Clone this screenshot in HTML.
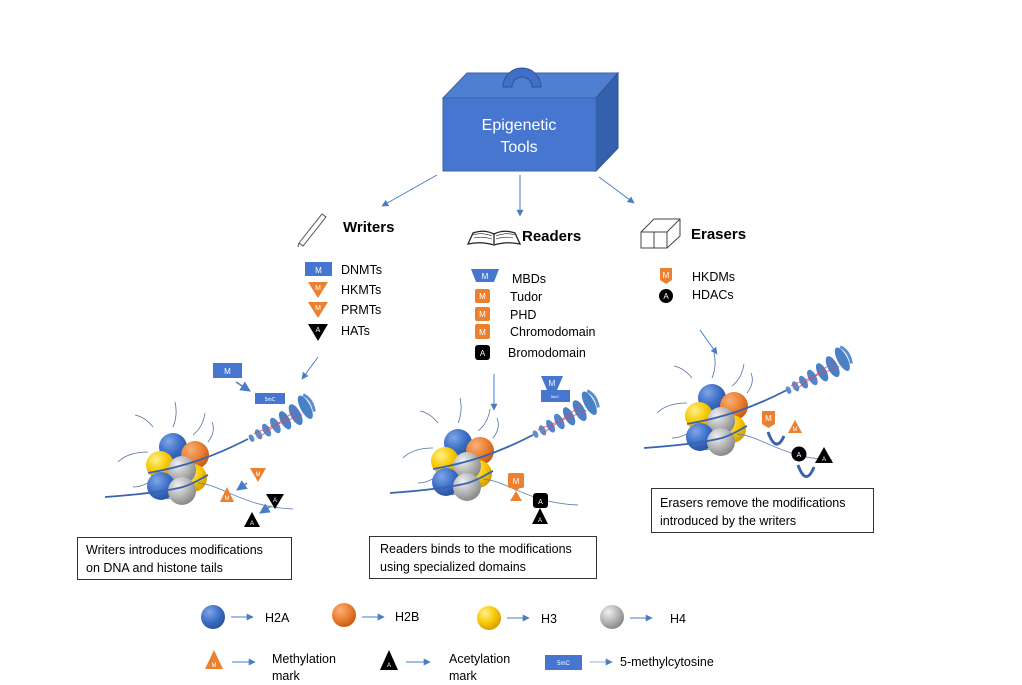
<!DOCTYPE html>
<html><head><meta charset="utf-8"><style>
html,body{margin:0;padding:0;background:#fff}
svg{display:block}
text{font-family:"Liberation Sans",sans-serif}
</style></head><body>
<svg width="1022" height="685" viewBox="0 0 1022 685" xmlns="http://www.w3.org/2000/svg">
<defs>
<marker id="ar" viewBox="0 0 10 10" refX="9" refY="5" markerWidth="7" markerHeight="7" orient="auto"><path d="M0,0 L10,5 L0,10 z" fill="#4a7ec4"/></marker>
<radialGradient id="gb" cx="35%" cy="30%" r="70%"><stop offset="0" stop-color="#7fa6e6"/><stop offset="0.6" stop-color="#3d6fc8"/><stop offset="1" stop-color="#2a55a0"/></radialGradient>
<radialGradient id="go" cx="35%" cy="30%" r="70%"><stop offset="0" stop-color="#f8b07a"/><stop offset="0.6" stop-color="#ea7f30"/><stop offset="1" stop-color="#c85f18"/></radialGradient>
<radialGradient id="gy" cx="35%" cy="30%" r="70%"><stop offset="0" stop-color="#fff08a"/><stop offset="0.6" stop-color="#f8c800"/><stop offset="1" stop-color="#d8a000"/></radialGradient>
<radialGradient id="gg" cx="35%" cy="30%" r="70%"><stop offset="0" stop-color="#f0f0f0"/><stop offset="0.6" stop-color="#b4b4b4"/><stop offset="1" stop-color="#8a8a8a"/></radialGradient>
<g id="nuc">
 <path d="M-20,-20 q-8,-10 -18,-12 M0,-20 q5,-12 2,-25 M20,-12 q10,-8 12,-22 M35,-5 q8,-10 4,-20 M-18,30 q-10,10 -22,10 M8,40 q-4,10 -14,12 M-25,5 q-20,0 -30,10" fill="none" stroke="#5070a0" stroke-width="0.8"/>
 <circle cx="0" cy="0" r="14" fill="url(#gb)"/>
 <circle cx="22" cy="8" r="14" fill="url(#go)"/>
 <circle cx="-13" cy="18" r="14" fill="url(#gy)"/>
 <circle cx="20" cy="31" r="14" fill="url(#gy)"/>
 <circle cx="9" cy="23" r="14" fill="url(#gg)"/>
 <circle cx="-12" cy="39" r="14" fill="url(#gb)"/>
 <circle cx="9" cy="44" r="14" fill="url(#gg)"/>
 <path d="M-68,50 C-40,48 -10,45 10,40 C25,35 30,30 35,28" fill="none" stroke="#3a64b0" stroke-width="1.8"/>
 <path d="M-25,26 C10,20 40,10 75,-8" fill="none" stroke="#3a64b0" stroke-width="1.8"/>
 <path d="M25,36 C50,38 70,60 120,62" fill="none" stroke="#6a88b8" stroke-width="0.9"/>
</g>
<g id="hel">
 <ellipse cx="4" cy="0" rx="2.5" ry="4" fill="#5c8fd0"/>
 <ellipse cx="12" cy="0" rx="3" ry="5.5" fill="#5c8fd0"/>
 <ellipse cx="21" cy="0" rx="3.5" ry="7" fill="#4f86cc"/>
 <ellipse cx="31" cy="0" rx="4" ry="8.5" fill="#4f86cc"/>
 <ellipse cx="42" cy="0" rx="4.5" ry="10" fill="#4a80c6"/>
 <ellipse cx="54" cy="0" rx="5" ry="11.5" fill="#4a80c6"/>
 <ellipse cx="66" cy="-2" rx="5" ry="13" fill="#4a80c6"/>
 <path d="M8,-3 L60,3 M10,3 L58,-4" stroke="#d44a6a" stroke-width="0.8"/>
 <path d="M70,-14 q6,8 2,20" fill="none" stroke="#5c8fd0" stroke-width="3"/>
</g>
</defs>

<!-- Toolbox -->
<polygon points="443,98 467,73 618,73 596,98" fill="#4f7fd0" stroke="#3b63a8"/>
<polygon points="596,98 618,73 618,148 596,171" fill="#3560ad" stroke="#2d5296"/>
<rect x="443" y="98" width="153" height="73" fill="#4676d0" stroke="#3b63a8"/>
<path d="M503,87 A19,19 0 0 1 541,87 L532,87 A10,10 0 0 0 512,87 Z" fill="#3f6fc8" stroke="#2d5296"/>
<text x="519" y="130" fill="#fff" font-size="16" text-anchor="middle">Epigenetic</text>
<text x="519" y="152" fill="#fff" font-size="16" text-anchor="middle">Tools</text>

<line x1="437" y1="175" x2="382" y2="206" stroke="#4a7ec4" marker-end="url(#ar)"/>
<line x1="520" y1="175" x2="520" y2="216" stroke="#4a7ec4" marker-end="url(#ar)"/>
<line x1="599" y1="177" x2="634" y2="203" stroke="#4a7ec4" marker-end="url(#ar)"/>

<!-- Headings -->
<g stroke="#555" fill="#fff" stroke-width="1">
 <polygon points="299,243 322,214 326,217 303,246"/>
 <line x1="299" y1="243" x2="298" y2="247"/>
</g>
<text x="343" y="232" font-size="15" font-weight="bold">Writers</text>
<g fill="#fff" stroke="#222" stroke-width="1.3">
<path d="M468,244 l5,-11 q11,-4 21,1 q10,-5 21,-1 l5,11 q-13,-3 -26,1 q-13,-4 -26,-1z"/>
<path d="M472,235 q10,-3 20,1 M496,236 q10,-4 19,-1 M474,238 q9,-2 18,1 M496,239 q9,-3 17,-1" fill="none" stroke-width="0.6"/>
<line x1="494" y1="234" x2="494" y2="244"/>
</g>
<text x="522" y="241" font-size="15" font-weight="bold">Readers</text>
<g fill="#fff" stroke="#444"><polygon points="641,232 654,219 680,219 680,236 667,248 641,248"/><line x1="641" y1="232" x2="667" y2="232"/><line x1="667" y1="232" x2="680" y2="219"/><line x1="667" y1="232" x2="667" y2="248"/><line x1="654" y1="232" x2="654" y2="248"/></g>
<text x="691" y="239" font-size="15" font-weight="bold">Erasers</text>

<!-- Writers list -->
<g font-size="12.5">
<rect x="305" y="262" width="27" height="14" fill="#4676d0"/><text x="318.5" y="273" font-size="8" fill="#fff" text-anchor="middle">M</text>
<text x="341" y="274">DNMTs</text>
<polygon points="308,282 328,282 318,298" fill="#ea8030"/><text x="318" y="290" font-size="7" fill="#fff" text-anchor="middle">M</text>
<text x="341" y="294">HKMTs</text>
<polygon points="308,302 328,302 318,318" fill="#ea8030"/><text x="318" y="310" font-size="7" fill="#fff" text-anchor="middle">M</text>
<text x="341" y="314">PRMTs</text>
<polygon points="308,324 328,324 318,341" fill="#000"/><text x="318" y="332" font-size="7" fill="#fff" text-anchor="middle">A</text>
<text x="341" y="335">HATs</text>

<!-- Readers list -->
<polygon points="471,269 499,269 494,282 476,282" fill="#4676d0"/><text x="485" y="279" font-size="8" fill="#fff" text-anchor="middle">M</text>
<text x="512" y="283">MBDs</text>
<rect x="475" y="289" width="15" height="14" rx="2" fill="#ea8030"/><text x="482.5" y="299" font-size="8" fill="#fff" text-anchor="middle">M</text>
<text x="510" y="301">Tudor</text>
<rect x="475" y="307" width="15" height="14" rx="2" fill="#ea8030"/><text x="482.5" y="317" font-size="8" fill="#fff" text-anchor="middle">M</text>
<text x="510" y="319">PHD</text>
<rect x="475" y="324" width="15" height="15" rx="2" fill="#ea8030"/><text x="482.5" y="335" font-size="8" fill="#fff" text-anchor="middle">M</text>
<text x="510" y="336">Chromodomain</text>
<rect x="475" y="345" width="15" height="15" rx="3" fill="#000"/><text x="482.5" y="356" font-size="8" fill="#fff" text-anchor="middle">A</text>
<text x="508" y="357">Bromodomain</text>

<!-- Erasers list -->
<path d="M660,268 h12 v12 l-6,4 l-6,-4z" fill="#ea8030"/><text x="666" y="278" font-size="8" fill="#fff" text-anchor="middle">M</text>
<text x="692" y="281">HKDMs</text>
<circle cx="666" cy="296" r="7" fill="#000"/><text x="666" y="299" font-size="8" fill="#fff" text-anchor="middle">A</text>
<text x="692" y="299">HDACs</text>
</g>

<!-- Writers scene -->
<line x1="318" y1="357" x2="302" y2="379" stroke="#4a7ec4" marker-end="url(#ar)"/>
<rect x="213" y="363" width="29" height="15" fill="#4676d0"/><text x="227.5" y="374" font-size="8" fill="#fff" text-anchor="middle">M</text>
<line x1="236" y1="382" x2="250" y2="391" stroke="#4a7ec4" stroke-width="1.5" marker-end="url(#ar)"/>
<use href="#nuc" x="173" y="447"/>
<use href="#hel" transform="translate(248,440) rotate(-28)"/>
<rect x="255" y="393" width="30" height="11" fill="#4676d0"/><text x="270" y="401" font-size="5" fill="#fff" text-anchor="middle">5mC</text>
<polygon points="250,468 266,468 258,482" fill="#ea8030"/><text x="258" y="476" font-size="6" fill="#fff" text-anchor="middle">M</text>
<line x1="247" y1="483" x2="237" y2="490" stroke="#4a7ec4" stroke-width="1.5" marker-end="url(#ar)"/>
<polygon points="227,487 220,502 234,502" fill="#ea8030"/><text x="227" y="500" font-size="6" fill="#fff" text-anchor="middle">M</text>
<polygon points="266,494 284,494 275,509" fill="#000"/><text x="275" y="502" font-size="6" fill="#fff" text-anchor="middle">A</text>
<line x1="271" y1="506" x2="260" y2="513" stroke="#4a7ec4" stroke-width="1.5" marker-end="url(#ar)"/>
<polygon points="252,512 244,527 260,527" fill="#000"/><text x="252" y="525" font-size="6" fill="#fff" text-anchor="middle">A</text>
<rect x="77.5" y="537.5" width="214" height="42" fill="#fff" stroke="#333"/>
<text x="86" y="554" font-size="12.5">Writers introduces modifications</text>
<text x="86" y="572" font-size="12.5">on DNA and histone tails</text>

<!-- Readers scene -->
<line x1="494" y1="374" x2="494" y2="410" stroke="#4a7ec4" marker-end="url(#ar)"/>
<use href="#nuc" x="458" y="443"/>
<use href="#hel" transform="translate(532,436) rotate(-28)"/>
<polygon points="541,376 563,376 557,390 547,390" fill="#4676d0"/><text x="552" y="386" font-size="8" fill="#fff" text-anchor="middle">M</text>
<rect x="541" y="390" width="29" height="12" fill="#4676d0"/><text x="555" y="398" font-size="4" fill="#fff" text-anchor="middle">5mC</text>
<rect x="508" y="473" width="16" height="15" rx="2" fill="#ea8030"/><text x="516" y="484" font-size="8" fill="#fff" text-anchor="middle">M</text>
<polygon points="512,488 520,488 516,491 522,501 510,501 516,491" fill="#ea8030"/>
<rect x="533" y="493" width="15" height="15" rx="3" fill="#000"/><text x="540.5" y="504" font-size="7" fill="#fff" text-anchor="middle">A</text>
<polygon points="540,508 532,524 548,524" fill="#000"/><text x="540" y="522" font-size="6" fill="#fff" text-anchor="middle">A</text>
<rect x="369.5" y="536.5" width="227" height="42" fill="#fff" stroke="#333"/>
<text x="380" y="553" font-size="12.5">Readers binds to the modifications</text>
<text x="380" y="571" font-size="12.5">using specialized domains</text>

<!-- Erasers scene -->
<line x1="700" y1="330" x2="717" y2="354" stroke="#4a7ec4" marker-end="url(#ar)"/>
<use href="#nuc" x="712" y="398"/>
<use href="#hel" transform="translate(785,392) rotate(-28)"/>
<path d="M762,411 h13 v13 l-6.5,4 l-6.5,-4z" fill="#ea8030"/><text x="768.5" y="421" font-size="8" fill="#fff" text-anchor="middle">M</text>
<polygon points="795,420 788,433 802,433" fill="#ea8030"/><text x="795" y="431" font-size="6" fill="#fff" text-anchor="middle">M</text>
<path d="M768,432 q8,22 16,4" fill="none" stroke="#3a64b0" stroke-width="3"/>
<circle cx="799" cy="454" r="7.5" fill="#000"/><text x="799" y="457" font-size="7" fill="#fff" text-anchor="middle">A</text>
<polygon points="824,447 815,463 833,463" fill="#000"/><text x="824" y="461" font-size="6" fill="#fff" text-anchor="middle">A</text>
<path d="M798,465 q8,22 16,2" fill="none" stroke="#3a64b0" stroke-width="3"/>
<rect x="651.5" y="488.5" width="222" height="44" fill="#fff" stroke="#333"/>
<text x="660" y="507" font-size="12.5">Erasers remove the modifications</text>
<text x="660" y="525" font-size="12.5">introduced by the writers</text>

<!-- Legend -->
<g font-size="12.5">
<circle cx="213" cy="617" r="12" fill="url(#gb)"/><line x1="231" y1="617" x2="253" y2="617" stroke="#4a7ec4" marker-end="url(#ar)"/><text x="265" y="622">H2A</text>
<circle cx="344" cy="615" r="12" fill="url(#go)"/><line x1="362" y1="617" x2="384" y2="617" stroke="#4a7ec4" marker-end="url(#ar)"/><text x="395" y="621">H2B</text>
<circle cx="489" cy="618" r="12" fill="url(#gy)"/><line x1="507" y1="618" x2="529" y2="618" stroke="#4a7ec4" marker-end="url(#ar)"/><text x="541" y="623">H3</text>
<circle cx="612" cy="617" r="12" fill="url(#gg)"/><line x1="630" y1="618" x2="652" y2="618" stroke="#4a7ec4" marker-end="url(#ar)"/><text x="670" y="623">H4</text>
<polygon points="214,650 205,669 223,669" fill="#ea8030"/><text x="214" y="667" font-size="6" fill="#fff" text-anchor="middle">M</text>
<line x1="232" y1="662" x2="255" y2="662" stroke="#4a7ec4" marker-end="url(#ar)"/>
<text x="272" y="663">Methylation</text><text x="272" y="680">mark</text>
<polygon points="389,650 380,670 398,670" fill="#000"/><text x="389" y="667" font-size="6" fill="#fff" text-anchor="middle">A</text>
<line x1="406" y1="662" x2="430" y2="662" stroke="#4a7ec4" marker-end="url(#ar)"/>
<text x="449" y="663">Acetylation</text><text x="449" y="680">mark</text>
<rect x="545" y="655" width="37" height="15" fill="#4676d0"/><text x="563.5" y="665" font-size="6" fill="#fff" text-anchor="middle">5mC</text>
<line x1="590" y1="662" x2="612" y2="662" stroke="#8fb0dd" marker-end="url(#ar)"/>
<text x="620" y="666">5-methylcytosine</text>
</g>
</svg>
</body></html>
